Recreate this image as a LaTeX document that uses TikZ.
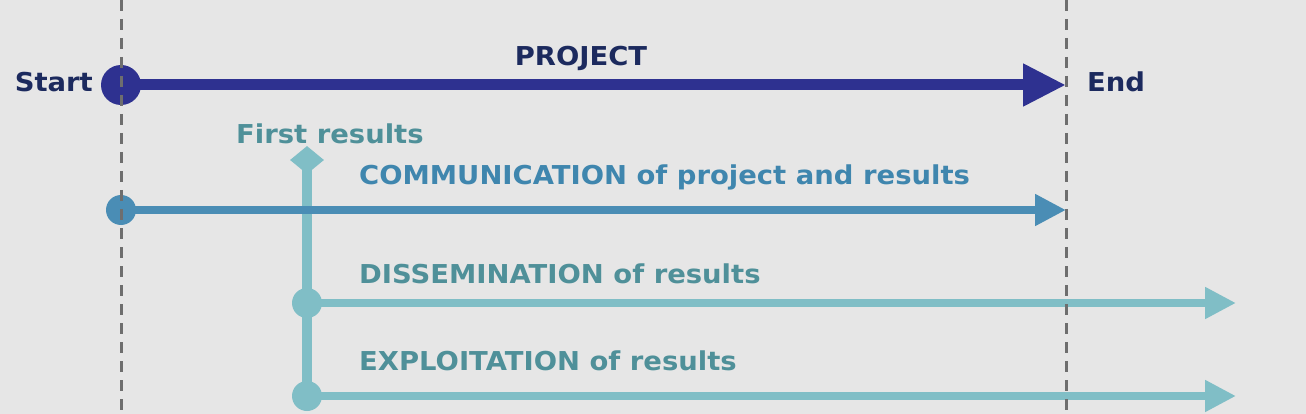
\documentclass[tikz,border=0pt]{standalone}
\usepackage{fontspec}
\setmainfont[FakeStretch=1.055]{DejaVu Sans}
\usetikzlibrary{arrows.meta,shapes.geometric}
\definecolor{bg}{HTML}{E6E6E6}
\definecolor{navy}{HTML}{2E3190}
\definecolor{navytext}{HTML}{1C2A5E}
\definecolor{commblue}{HTML}{4A8DB5}
\definecolor{commtext}{HTML}{3F86AE}
\definecolor{teal}{HTML}{80BEC6}
\definecolor{tealtext}{HTML}{4F9099}
\definecolor{dashgray}{HTML}{6E6E6E}
\begin{document}
\begin{tikzpicture}[x=1pt,y=-1pt,
  lbl/.style={font=\bfseries\fontsize{26}{30}\selectfont, inner sep=0pt},
  dot/.style={circle, fill=#1, draw=none, inner sep=0pt},
  guide/.style={dashgray, line width=3pt, dash pattern=on 11pt off 8pt}]
\useasboundingbox (0,0) rectangle (1306,414);
\fill[bg] (0,0) rectangle (1306,414);
% project
\node[dot=navy, minimum size=40pt] (ps) at (121,85) {};
\coordinate (pe) at (1066,85);
\draw[navy, line width=11pt, -{Triangle[length=43pt,width=40pt]}] (ps.center) -- (pe);
\node[lbl, text=navytext, anchor=east] (start) at (93,82) {Start};
\node[lbl, text=navytext, anchor=west] (end) at (1087,82) {End};
\node[lbl, text=navytext] (project) at (581,58) {PROJECT};
% first results vertical
\node[diamond, fill=teal, inner sep=0pt, minimum width=34pt, minimum height=28pt] (fr) at (307,160) {};
\node[dot=teal, minimum size=30pt] (ds) at (307,303) {};
\node[dot=teal, minimum size=30pt] (es) at (307,396) {};
\draw[teal, line width=10pt] (fr.center) -- (es.center);
\node[lbl, text=tealtext, anchor=west] (frl) at (236,134) {First results};
% communication
\node[dot=commblue, minimum size=30pt] (cs) at (121,210) {};
\coordinate (ce) at (1066,210);
\draw[commblue, line width=8pt, -{Triangle[length=31pt,width=30pt]}] (cs.center) -- (ce);
\node[lbl, text=commtext, anchor=west] (cl) at (359,177) {COMMUNICATION of project and results};
% dissemination
\coordinate (de) at (1236,303);
\draw[teal, line width=8pt, -{Triangle[length=31pt,width=30pt]}] (ds.center) -- (de);
\node[lbl, text=tealtext, anchor=west] (dl) at (359,274) {DISSEMINATION of results};
% exploitation
\coordinate (ee) at (1236,396);
\draw[teal, line width=8pt, -{Triangle[length=31pt,width=30pt]}] (es.center) -- (ee);
\node[lbl, text=tealtext, anchor=west] (el) at (359,361) {EXPLOITATION of results};
% guides (on top)
\coordinate (g1t) at (121,0); \coordinate (g1b) at (121,414);
\coordinate (g2t) at (1066,0); \coordinate (g2b) at (1066,414);
\draw[guide] (g1t) -- (g1b);
\draw[guide] (g2t) -- (g2b);
\end{tikzpicture}
\end{document}
